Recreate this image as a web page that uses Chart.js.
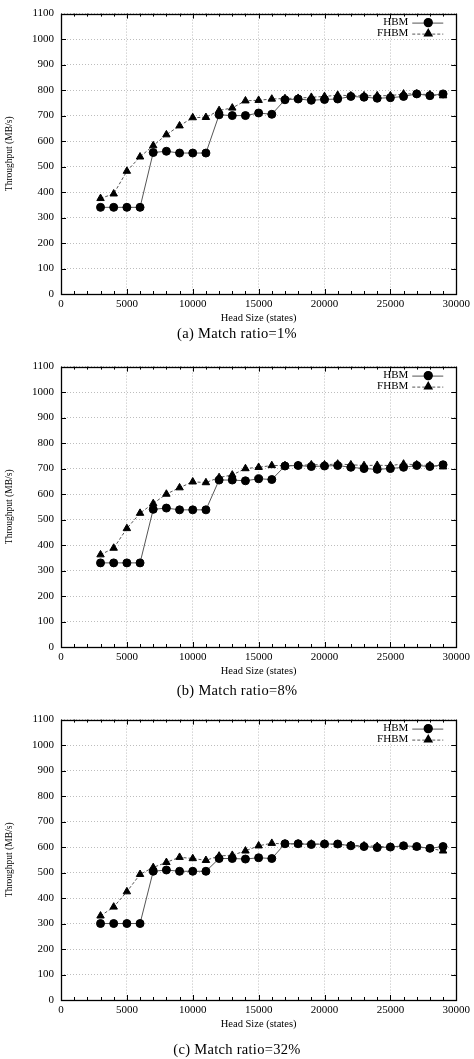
<!DOCTYPE html>
<html>
<head>
<meta charset="utf-8">
<script src="https://cdn.jsdelivr.net/npm/chart.js@4.4.1/dist/chart.umd.min.js"></script>
<style>
  html, body { margin:0; padding:0; background:#fff; }
  body { width:474px; height:1059px; position:relative; overflow:hidden; }
  .panel { position:absolute; left:0; width:474px; height:340px; }
  .cap { position:absolute; left:0; width:474px; text-align:center; font-family:'Liberation Serif', serif; font-size:14.5px; color:#000; line-height:16px; letter-spacing:0.3px; }
</style>
</head>
<body>
<div class="panel" style="top:0px"><canvas id="c1" width="474" height="340"></canvas></div>
<div class="panel" style="top:353px"><canvas id="c2" width="474" height="340"></canvas></div>
<div class="panel" style="top:706px"><canvas id="c3" width="474" height="340"></canvas></div>
<div class="cap" style="top:325px">(a) Match ratio=1%</div>
<div class="cap" style="top:682px">(b) Match ratio=8%</div>
<div class="cap" style="top:1041px">(c) Match ratio=32%</div>
<script>
const heads = [3000,4000,5000,6000,7000,8000,9000,10000,11000,12000,13000,14000,15000,16000,17000,18000,19000,20000,21000,22000,23000,24000,25000,26000,27000,28000,29000];

const hbm1  = [340,340,340,340,555,560,553,553,553,703,700,700,710,705,762,765,760,763,765,775,772,768,770,775,785,778,785];
const fhbm1 = [375,393,482,538,582,625,660,692,693,720,730,758,760,765,767,768,772,775,780,778,778,778,778,785,785,782,778];

const hbm2  = [330,330,330,330,540,545,538,538,538,655,655,652,660,657,710,712,708,710,712,705,700,697,700,705,712,708,715];
const fhbm2 = [362,388,465,525,563,600,625,648,645,665,675,700,705,712,712,712,715,715,718,715,712,713,712,718,715,712,707];

const hbm3  = [300,300,300,300,505,510,505,505,505,555,555,553,558,555,613,613,610,612,612,605,602,598,600,605,602,595,602];
const fhbm3 = [330,365,425,493,520,540,560,555,548,565,568,585,605,615,612,612,612,612,610,607,605,603,600,603,600,595,585];

const seriesNames = ['HBM','FHBM'];
const xLabel = 'Head Size (states)';
const yLabel = 'Throughput (MB/s)';
const xMin = 0, xMax = 30000, xStep = 5000, xMinor = 1000;
const yMin = 0, yMax = 1100, yStep = 100;

const serif = "'Liberation Serif', serif";

const framePlugin = {
  id: 'frame',
  afterDraw(chart) {
    const ctx = chart.ctx, a = chart.chartArea;
    const xs = chart.scales.x, ys = chart.scales.y;
    ctx.save();
    ctx.strokeStyle = '#000';
    ctx.lineWidth = 1;
    ctx.beginPath();
    for (let v = xMin; v <= xMax; v += xMinor) {
      const px = Math.round(xs.getPixelForValue(v)) + 0.5;
      const len = (v % xStep === 0) ? 5 : 3;
      ctx.moveTo(px, a.bottom); ctx.lineTo(px, a.bottom - len);
      ctx.moveTo(px, a.top); ctx.lineTo(px, a.top + len);
    }
    for (let v = yMin; v <= yMax; v += yStep) {
      const py = Math.round(ys.getPixelForValue(v)) + 0.5;
      ctx.moveTo(a.left, py); ctx.lineTo(a.left + 5, py);
      ctx.moveTo(a.right, py); ctx.lineTo(a.right - 5, py);
    }
    ctx.stroke();
    ctx.lineWidth = 1.3;
    ctx.strokeRect(Math.round(a.left)+0.5, Math.round(a.top)+0.5, Math.round(a.right-a.left), Math.round(a.bottom-a.top));

    // legend
    ctx.font = '11px ' + serif;
    ctx.fillStyle = '#000';
    ctx.textAlign = 'right';
    ctx.textBaseline = 'middle';
    const ds = chart.data.datasets;
    const rows = [a.top + 9, a.top + 20];
    ds.forEach((d, i) => {
      const y = rows[i];
      ctx.fillText(d.label, a.right - 48, y);
      ctx.save();
      ctx.strokeStyle = d.borderColor;
      ctx.lineWidth = 1;
      ctx.setLineDash(d.borderDash || []);
      ctx.beginPath();
      ctx.moveTo(a.right - 44, y + 0.5); ctx.lineTo(a.right - 13, y + 0.5);
      ctx.stroke();
      ctx.restore();
      ctx.fillStyle = '#000';
      Chart.helpers.drawPoint(ctx, {pointStyle: d.pointStyle, radius: d.pointRadius, borderWidth: 1}, a.right - 28, y);
    });
    ctx.restore();
  }
};

function makeChart(id, hbm, fhbm) {
  const toPts = arr => heads.map((h, i) => ({x: h, y: arr[i]}));
  new Chart(document.getElementById(id), {
    type: 'line',
    data: {
      datasets: [
        { label: seriesNames[0], data: toPts(hbm), borderColor: '#555', borderWidth: 1,
          pointStyle: 'circle', pointRadius: 4, pointBackgroundColor: '#000', pointBorderColor: '#000',
          pointBorderWidth: 1, fill: false, tension: 0 },
        { label: seriesNames[1], data: toPts(fhbm), borderColor: '#555', borderWidth: 1, borderDash: [3,2],
          pointStyle: 'triangle', pointRadius: 4.3, pointBackgroundColor: '#000', pointBorderColor: '#000',
          pointBorderWidth: 1, fill: false, tension: 0 }
      ]
    },
    options: {
      responsive: false,
      animation: false,
      events: [],
      layout: { padding: { top: 8, right: 17, bottom: 10, left: 0 } },
      plugins: { legend: { display: false }, tooltip: { enabled: false } },
      scales: {
        x: {
          type: 'linear', min: xMin, max: xMax,
          afterFit: s => { s.height = 36; },
          ticks: { stepSize: xStep, color: '#000', font: { family: serif, size: 11 }, padding: 4, maxRotation: 0, autoSkip: false,
                   callback: v => String(v) },
          grid: { color: '#bdbdbd', lineWidth: 1, drawTicks: false },
          border: { display: false, dash: [1,2] },
          title: { display: true, text: xLabel, color: '#000', font: { family: serif, size: 10.5 }, padding: { top: 2, bottom: 5 } }
        },
        y: {
          type: 'linear', min: yMin, max: yMax,
          afterFit: s => { s.width = 61; },
          ticks: { stepSize: yStep, color: '#000', font: { family: serif, size: 11 }, padding: 7, autoSkip: false,
                   callback: v => String(v) },
          grid: { color: '#bdbdbd', lineWidth: 1, drawTicks: false },
          border: { display: false, dash: [1,2] },
          title: { display: true, text: yLabel, color: '#000', font: { family: serif, size: 9.5 }, padding: { top: 4, bottom: 2 } }
        }
      }
    },
    plugins: [framePlugin]
  });
}

makeChart('c1', hbm1, fhbm1);
makeChart('c2', hbm2, fhbm2);
makeChart('c3', hbm3, fhbm3);
</script>
</body>
</html>
